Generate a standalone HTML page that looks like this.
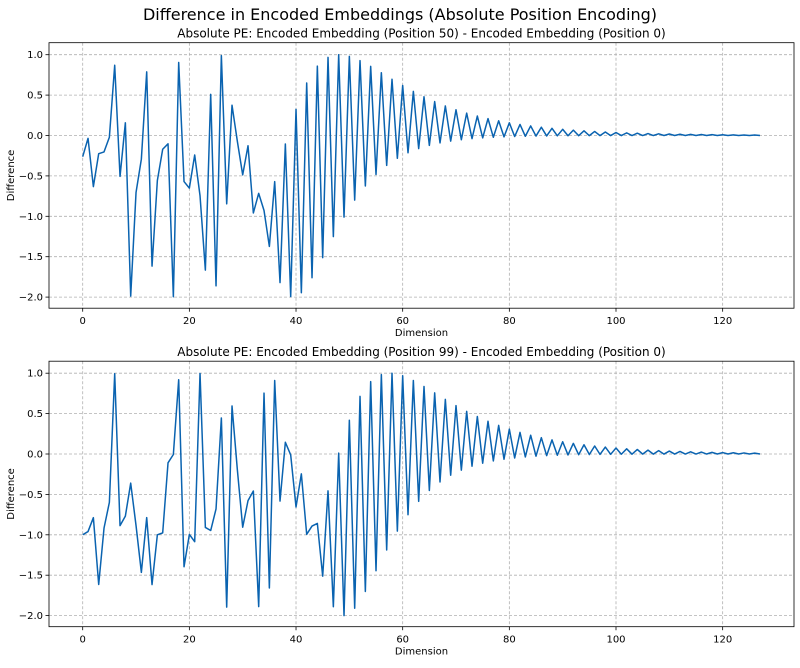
<!DOCTYPE html>
<html><head><meta charset="utf-8"><style>
body{margin:0;background:#fff;font-family:"Liberation Sans","DejaVu Sans",sans-serif;}
svg text{font-family:"DejaVu Sans","Liberation Sans",sans-serif;fill:#000;}
</style></head><body>
<svg id="fig" width="800" height="663" viewBox="0 0 800 663" xmlns="http://www.w3.org/2000/svg">
<text x="400" y="20" text-anchor="middle" font-size="16">Difference in Encoded Embeddings (Absolute Position Encoding)</text>
</svg>
<script>
const dims = Array.from({length:128},(_,i)=>i);
const xTicks = [0,20,40,60,80,100,120];
const yTicks = [1.0,0.5,0.0,-0.5,-1.0,-1.5,-2.0];
const titles = ["Absolute PE: Encoded Embedding (Position 50) - Encoded Embedding (Position 0)","Absolute PE: Encoded Embedding (Position 99) - Encoded Embedding (Position 0)"];
const sin50 = [-0.262,-0.632,-0.203,0.869,0.157,-0.706,0.787,-0.557,-0.103,0.903,-0.651,-0.746,0.509,0.988,0.375,-0.487,-0.959,-0.928,-0.571,-0.105,0.324,0.649,0.859,0.967,1.000,0.980,0.927,0.855,0.777,0.696,0.619,0.546,0.479,0.420,0.366,0.319,0.277,0.241,0.209,0.182,0.157,0.1365,0.1183,0.1025,0.0888,0.0769,0.0666,0.0577,0.05,0.0433,0.0375,0.0325,0.0281,0.0243,0.0211,0.0183,0.0158,0.0137,0.0119,0.0103,0.0089,0.0077,0.0067,0.0058];
const cos50 = [-0.035,-0.225,-0.021,-0.506,-1.988,-0.292,-1.617,-0.170,-1.995,-0.570,-0.241,-1.666,-1.861,-0.846,-0.073,-0.127,-0.716,-1.373,-1.821,-1.994,-1.946,-1.761,-1.512,-1.252,-1.010,-0.800,-0.625,-0.482,-0.370,-0.282,-0.214,-0.162,-0.122,-0.092,-0.069,-0.052,-0.039,-0.0295,-0.022,-0.017,-0.0125,-0.0094,-0.007,-0.0053,-0.004,-0.003,-0.0022,-0.0017,-0.0012,-0.0009,-0.0007,-0.0005,-0.0004,-0.0003,-0.0002,-0.0002,-0.0001,-0.0001,-0.0001,0,0,0,0,0];
const sin99 = [-0.999,-0.788,-0.916,0.9935,-0.769,-0.885,-0.787,-0.9997,-0.109,0.919,-0.996,0.996,-0.947,0.446,0.594,-0.906,-0.458,0.753,0.909,0.145,-0.656,-0.994,-0.859,-0.456,0.011,0.418,0.713,0.896,0.982,0.999,0.969,0.910,0.836,0.756,0.676,0.599,0.528,0.464,0.405,0.354,0.308,0.268,0.2326,0.2019,0.1752,0.1519,0.1316,0.1141,0.0988,0.0857,0.0742,0.0643,0.0557,0.0482,0.0417,0.0361,0.0313,0.0271,0.0235,0.0203,0.0176,0.0152,0.0132,0.0114];
const cos99 = [-0.960,-1.615,-0.599,-0.887,-0.361,-1.465,-1.616,-0.976,-0.006,-1.395,-1.085,-0.909,-0.680,-1.895,-0.196,-0.577,-1.889,-1.658,-0.583,-0.011,-0.246,-0.892,-1.512,-1.890,-2.000,-1.909,-1.701,-1.445,-1.188,-0.954,-0.752,-0.586,-0.451,-0.346,-0.263,-0.200,-0.151,-0.114,-0.086,-0.065,-0.049,-0.0365,-0.0274,-0.0206,-0.0155,-0.0116,-0.0087,-0.0065,-0.0049,-0.0037,-0.0028,-0.0021,-0.0015,-0.0012,-0.0009,-0.0007,-0.0005,-0.0004,-0.0003,-0.0002,-0.0002,-0.0001,-0.0001,-0.0001];

function interleave(s,c){const o=[];for(let k=0;k<s.length;k++){o.push(s[k]);o.push(c[k]);}return o;}
const series = [interleave(sin50,cos50), interleave(sin99,cos99)];

const NS="http://www.w3.org/2000/svg";
const svg=document.getElementById('fig');
function mk(tag,attrs,parent){const e=document.createElementNS(NS,tag);for(const k in attrs)e.setAttribute(k,attrs[k]);(parent||svg).appendChild(e);return e;}

const L=49,R=794,H=265.5;
const tops=[42.7,361.2];
for(let p=0;p<2;p++){
  const T=tops[p], B=T+H;
  const xs=v=>82.7+v*5.333;
  const ys=v=>T+12+(1-v)*80.8;
  const g=mk('g',{});
  
  
  xTicks.forEach(t=>{
    const gl=mk('line',{x1:xs(t),x2:xs(t),y1:T,y2:B,stroke:'#b0b0b0','stroke-width':0.8,'stroke-dasharray':'3,2'},g);
    
    
    mk('line',{x1:xs(t),x2:xs(t),y1:B,y2:B+3.5,stroke:'#000','stroke-width':0.8},g);
    const tx=mk('text',{x:xs(t),y:B+16,'text-anchor':'middle','font-size':10},g);
    
    
    tx.textContent=t;
  });
  yTicks.forEach(t=>{
    const gl=mk('line',{x1:L,x2:R,y1:ys(t),y2:ys(t),stroke:'#b0b0b0','stroke-width':0.8,'stroke-dasharray':'3,2'},g);
    
    
    mk('line',{x1:L-3.5,x2:L,y1:ys(t),y2:ys(t),stroke:'#000','stroke-width':0.8},g);
    const tx=mk('text',{x:L-6,y:ys(t)+3.5,'text-anchor':'end','font-size':10},g);
    
    
    tx.textContent=t.toFixed(1).replace('-','\u2212');
  });
  const vals=series[p];
  const d=vals.map((v,i)=>(i?'L':'M')+xs(dims[i]).toFixed(2)+','+ys(v).toFixed(2)).join(' ');
  const path=mk('path',{d:d,fill:'none',stroke:'#0a63b0','stroke-width':1.5,'stroke-linejoin':'round'},g);
  
  
  const frame=mk('rect',{x:L,y:T,width:R-L,height:H,fill:'none',stroke:'#000','stroke-width':0.8},g);
  
  
  const ti=mk('text',{x:(L+R)/2,y:T-5,'text-anchor':'middle','font-size':12},g);
  
  
  ti.textContent=titles[p];
  const xl=mk('text',{x:(L+R)/2,y:B+28,'text-anchor':'middle','font-size':10},g);
  
  
  xl.textContent='Dimension';
  const yl=mk('text',{x:0,y:0,'text-anchor':'middle','font-size':10,transform:`translate(14,${(T+B)/2}) rotate(-90)`},g);
  
  
  yl.textContent='Difference';
}
</script>
</body></html>
